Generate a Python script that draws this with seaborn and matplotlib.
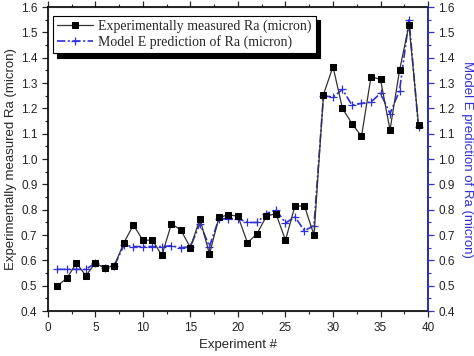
import pandas as pd
import seaborn as sns
import matplotlib.pyplot as plt
from matplotlib.ticker import MultipleLocator

# values
experiment = list(range(1, 40))
measured_ra = [0.50, 0.53, 0.59, 0.54, 0.59, 0.57, 0.58, 0.67, 0.74, 0.68,
               0.68, 0.62, 0.745, 0.72, 0.65, 0.765, 0.625, 0.77, 0.78, 0.775,
               0.67, 0.705, 0.775, 0.785, 0.68, 0.815, 0.815, 0.70, 1.255, 1.365,
               1.20, 1.14, 1.09, 1.325, 1.315, 1.115, 1.35, 1.53, 1.135]
model_ra = [0.565, 0.565, 0.565, 0.565, 0.59, 0.57, 0.58, 0.66, 0.655, 0.655,
            0.655, 0.655, 0.658, 0.65, 0.655, 0.745, 0.655, 0.765, 0.765, 0.765,
            0.75, 0.75, 0.785, 0.80, 0.748, 0.772, 0.717, 0.738, 1.25, 1.245,
            1.275, 1.213, 1.22, 1.225, 1.26, 1.18, 1.27, 1.55, 1.125]

df = pd.DataFrame({'exp': experiment, 'measured': measured_ra, 'model': model_ra})

sns.set_style('ticks')
plt.rcParams['font.family'] = ['Liberation Sans', 'DejaVu Sans']

blue = '#2f2fdc'
fig = plt.figure(figsize=(4.74, 3.56), dpi=100)
ax = fig.add_axes([0.101, 0.126, 0.802, 0.854])
ax2 = ax.twinx()

# model line first, measured squares drawn over it
sns.lineplot(data=df, x='exp', y='model', ax=ax, color=blue, lw=1.2,
             dashes=False, marker='+', markersize=6, markeredgewidth=0.9,
             markeredgecolor=blue,
             label='Model E prediction of Ra (micron)', legend=False, zorder=2)
ax.lines[-1].set_dashes((5, 1.5, 1.2, 1.5))
sns.lineplot(data=df, x='exp', y='measured', ax=ax, color='#333333', lw=0.9,
             marker='s', markersize=4.6, markerfacecolor='black',
             markeredgecolor='black', label='Experimentally measured Ra (micron)',
             legend=False, zorder=3)

for a in (ax, ax2):
    a.set_ylim(0.4, 1.6)
    a.yaxis.set_major_locator(MultipleLocator(0.1))
    a.yaxis.set_minor_locator(MultipleLocator(0.05))
    a.yaxis.set_major_formatter(plt.FormatStrFormatter('%.1f'))
    a.tick_params(labelsize=8.5, labelcolor='#222222')
ax.set_xlim(0, 40)
ax.xaxis.set_major_locator(MultipleLocator(5))
ax.xaxis.set_minor_locator(MultipleLocator(2.5))
ax.tick_params(which='major', length=4, width=0.9)
ax.tick_params(which='minor', length=2.5, width=0.8)
ax.tick_params(axis='x', which='both', top=True, labeltop=False)
ax2.tick_params(which='major', length=4, width=0.9, color=blue)
ax2.tick_params(which='minor', length=2.5, width=0.8, color=blue)

for s in ax.spines.values():
    s.set_linewidth(1.2)
    s.set_color('black')
ax2.spines['right'].set_color(blue)
ax2.spines['right'].set_linewidth(1.2)

ax.set_xlabel('Experiment #', fontsize=9.5, labelpad=4)
ax.set_ylabel('Experimentally measured Ra (micron)', fontsize=9.5, labelpad=3)
ax2.set_ylabel('Model E prediction of Ra (micron)', fontsize=9.5, color=blue,
               rotation=270, labelpad=13)

h, l = ax.get_legend_handles_labels()
leg = ax.legend(h[::-1], l[::-1], loc='upper left', bbox_to_anchor=(0.013, 0.972),
                borderaxespad=0, prop={'family': 'Liberation Serif', 'size': 10},
                frameon=True, fancybox=False, framealpha=1, edgecolor='black',
                shadow={'color': 'black', 'alpha': 1, 'ox': 3, 'oy': -3},
                borderpad=0.3, labelspacing=0.15, handlelength=2.6,
                handletextpad=0.35, markerscale=0.9)
leg.get_frame().set_linewidth(0.8)
leg.set_zorder(10)

fig.savefig('out.png', dpi=100)
